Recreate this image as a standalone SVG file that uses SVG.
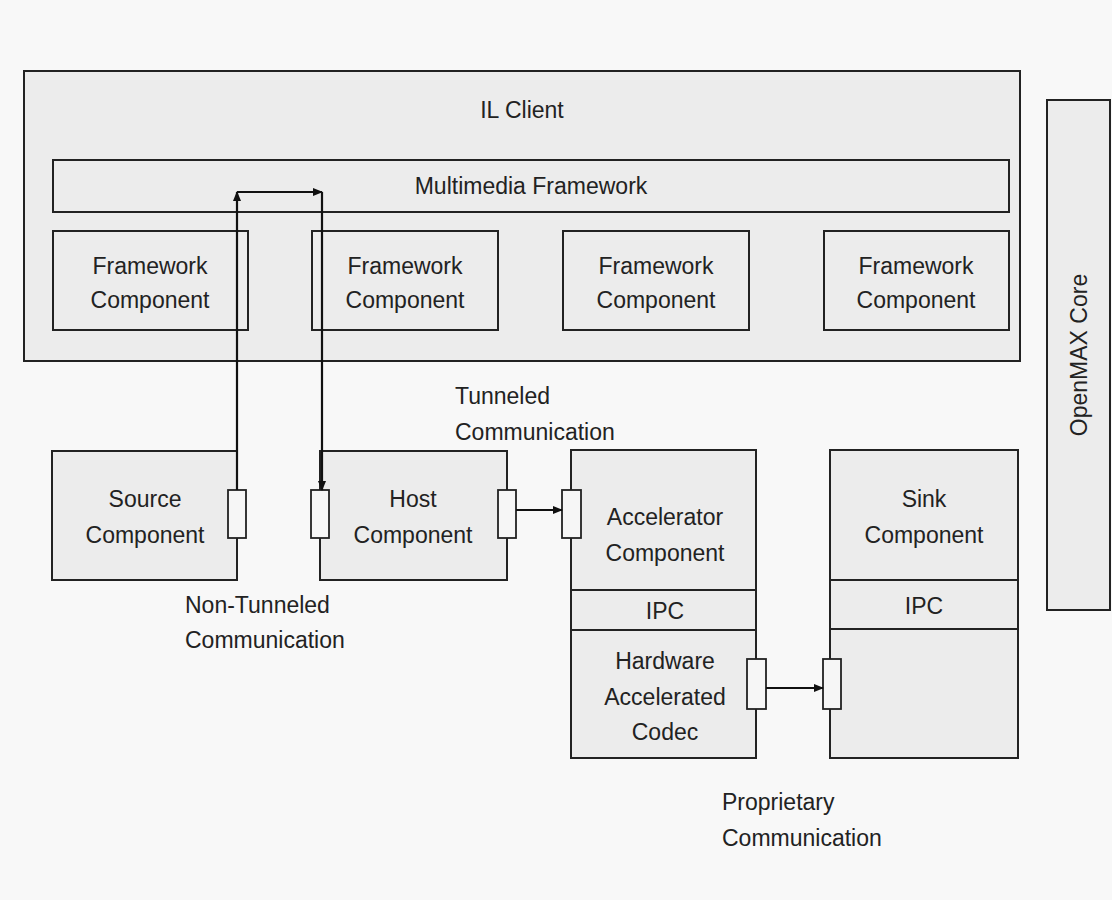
<svg xmlns="http://www.w3.org/2000/svg" width="1112" height="900" viewBox="0 0 1112 900">
<style>
.b{fill:#ececec;stroke:#222;stroke-width:2}
.p{fill:#f6f6f6;stroke:#222;stroke-width:1.8}
text{font-family:"Liberation Sans",Arial,sans-serif;font-size:23px;fill:#222;text-anchor:middle}
.l{text-anchor:start}
.c{fill:none;stroke:#111;stroke-width:2.2}
</style>
<defs><marker id="a" markerWidth="10" markerHeight="10" refX="9" refY="5" orient="auto" markerUnits="userSpaceOnUse"><path d="M0,1 L10,5 L0,9z" fill="#111"/></marker></defs>
<rect width="1112" height="900" fill="#f8f8f8"/>
<g id="ilclient"><rect class="b" x="24" y="71" width="996" height="290"/><text x="522" y="118">IL Client</text></g>
<g id="mmf"><rect class="b" x="53" y="160" width="956" height="52"/><text x="531" y="194">Multimedia Framework</text></g>
<g id="fc1"><rect class="b" x="53" y="231" width="195" height="99"/><text x="150" y="274">Framework</text><text x="150" y="308">Component</text></g>
<g id="fc2"><rect class="b" x="312" y="231" width="186" height="99"/><text x="405" y="274">Framework</text><text x="405" y="308">Component</text></g>
<g id="fc3"><rect class="b" x="563" y="231" width="186" height="99"/><text x="656" y="274">Framework</text><text x="656" y="308">Component</text></g>
<g id="fc4"><rect class="b" x="824" y="231" width="185" height="99"/><text x="916" y="274">Framework</text><text x="916" y="308">Component</text></g>
<g id="omx"><rect class="b" x="1047" y="100" width="63" height="510"/><text transform="translate(1087,355) rotate(-90)">OpenMAX Core</text></g>
<g id="source"><rect class="b" x="52" y="451" width="185" height="129"/><text x="145" y="507">Source</text><text x="145" y="543">Component</text><rect class="p" x="228" y="490" width="18" height="48"/></g>
<g id="host"><rect class="b" x="320" y="451" width="187" height="129"/><text x="413" y="507">Host</text><text x="413" y="543">Component</text><rect class="p" x="311" y="490" width="18" height="48"/><rect class="p" x="498" y="490" width="18" height="48"/></g>
<g id="accel"><rect class="b" x="571" y="450" width="185" height="308"/><line x1="571" y1="590" x2="756" y2="590" stroke="#222" stroke-width="2"/><line x1="571" y1="630" x2="756" y2="630" stroke="#222" stroke-width="2"/><text x="665" y="525">Accelerator</text><text x="665" y="561">Component</text><text x="665" y="619">IPC</text><text x="665" y="669">Hardware</text><text x="665" y="705">Accelerated</text><text x="665" y="740">Codec</text><rect class="p" x="562" y="490" width="19" height="48"/><rect class="p" x="747" y="659" width="19" height="50"/></g>
<g id="sink"><rect class="b" x="830" y="450" width="188" height="308"/><line x1="830" y1="580" x2="1018" y2="580" stroke="#222" stroke-width="2"/><line x1="830" y1="629" x2="1018" y2="629" stroke="#222" stroke-width="2"/><text x="924" y="507">Sink</text><text x="924" y="543">Component</text><text x="924" y="614">IPC</text><rect class="p" x="823" y="659" width="18" height="50"/></g>
<g id="connectors">
<path class="c" d="M237,490 V192" marker-end="url(#a)"/>
<path class="c" d="M237,192 H322" marker-end="url(#a)"/>
<path class="c" d="M322,192 V490" marker-end="url(#a)"/>
<path class="c" d="M516,510 H562" marker-end="url(#a)"/>
<path class="c" stroke-width="1.6" d="M766,688 H823" marker-end="url(#a)"/>
</g>
<g id="labels">
<text class="l" x="455" y="404">Tunneled</text><text class="l" x="455" y="440">Communication</text>
<text class="l" x="185" y="613">Non-Tunneled</text><text class="l" x="185" y="648">Communication</text>
<text class="l" x="722" y="810">Proprietary</text><text class="l" x="722" y="846">Communication</text>
</g>
</svg>
